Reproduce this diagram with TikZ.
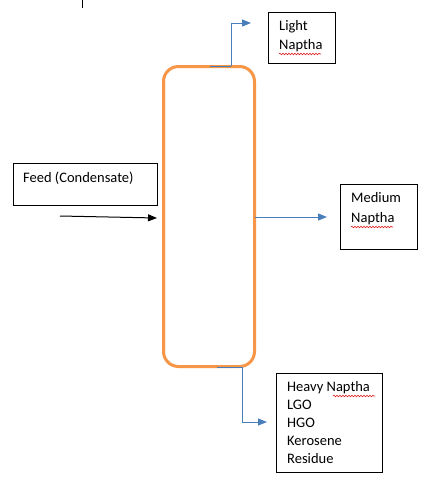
\documentclass[tikz,border=0pt]{standalone}
\usepackage{fontspec}
\setmainfont{Carlito}
\usetikzlibrary{arrows.meta,decorations.pathmorphing}
\definecolor{colorange}{HTML}{F79646}
\definecolor{flowblue}{HTML}{4A7EBB}
\definecolor{spellred}{HTML}{E02020}
\tikzset{
  box/.style={draw=black, line width=1pt},
  lbl/.style={anchor=base west, inner sep=0pt, font=\fontsize{14.5}{17}\selectfont},
  flow/.style={draw=flowblue, line width=1pt, -{Triangle[length=9pt,width=7pt]}},
  stub/.style={draw=flowblue, line width=1pt},
  squig/.style={draw=spellred, line width=0.6pt, decorate, decoration={snake, amplitude=0.8pt, segment length=3pt}}
}
\begin{document}
\begin{tikzpicture}[x=1pt,y=-1pt]
\useasboundingbox[fill=white] (0,0) rectangle (433,482);
% cursor tick
\draw[line width=0.8pt] (82,0) -- (82,8);
% column
\node[draw=colorange, line width=3pt, rounded corners=15pt, minimum width=91pt, minimum height=300pt, inner sep=0pt] (col) at (209,216.5) {};
% boxes
\node[box, minimum width=67pt, minimum height=51pt, inner sep=0pt] (light) at (301.5,37.5) {};
\node[box, minimum width=144pt, minimum height=42pt, inner sep=0pt] (feed) at (85,184) {};
\node[box, minimum width=77pt, minimum height=65pt, inner sep=0pt] (medium) at (378.5,216.5) {};
\node[box, minimum width=106pt, minimum height=99pt, inner sep=0pt] (heavy) at (329,422.5) {};
% texts
\node[lbl] (tl1) at (279,30) {Light};
\node[lbl] (tl2) at (279,49) {Naptha};
\node[lbl] (tf) at (23,182) {Feed (Condensate)};
\node[lbl] (tm1) at (351,202) {Medium};
\node[lbl] (tm2) at (351,222) {Naptha};
\node[lbl] (th1) at (287,391) {Heavy Naptha};
\node[lbl] (th2) at (287,409) {LGO};
\node[lbl] (th3) at (287,427) {HGO};
\node[lbl] (th4) at (287,445) {Kerosene};
\node[lbl] (th5) at (287,463) {Residue};
% spell-check squiggles
\draw[squig] (tl2.base west) ++(0,5) -- ++(42,0);
\draw[squig] (tm2.base west) ++(0,5) -- ++(42,0);
\draw[squig] ([xshift=46pt]th1.base west) ++(0,5) -- ++(42,0);
% connectors
\coordinate (topA) at (210,66);
\coordinate (topB) at (231,66);
\coordinate (topC) at (231,23);
\coordinate (topD) at (251,23);
\draw[stub] (topA) -- (topB);
\draw[flow] (topB) -- (topC) -- (topD);
\coordinate (feedS) at (60,216);
\coordinate (feedE) at (157,218);
\draw[line width=1pt, -{Triangle[length=9pt,width=7pt]}] (feedS) -- (feedE);
\coordinate (medS) at (255,217);
\coordinate (medE) at (327,217);
\draw[flow] (medS) -- (medE);
\coordinate (botA) at (217,367);
\coordinate (botB) at (242,367);
\coordinate (botC) at (242,422);
\coordinate (botD) at (267,422);
\draw[stub] (botA) -- (botB);
\draw[flow] (botB) -- (botC) -- (botD);
\end{tikzpicture}
\end{document}
